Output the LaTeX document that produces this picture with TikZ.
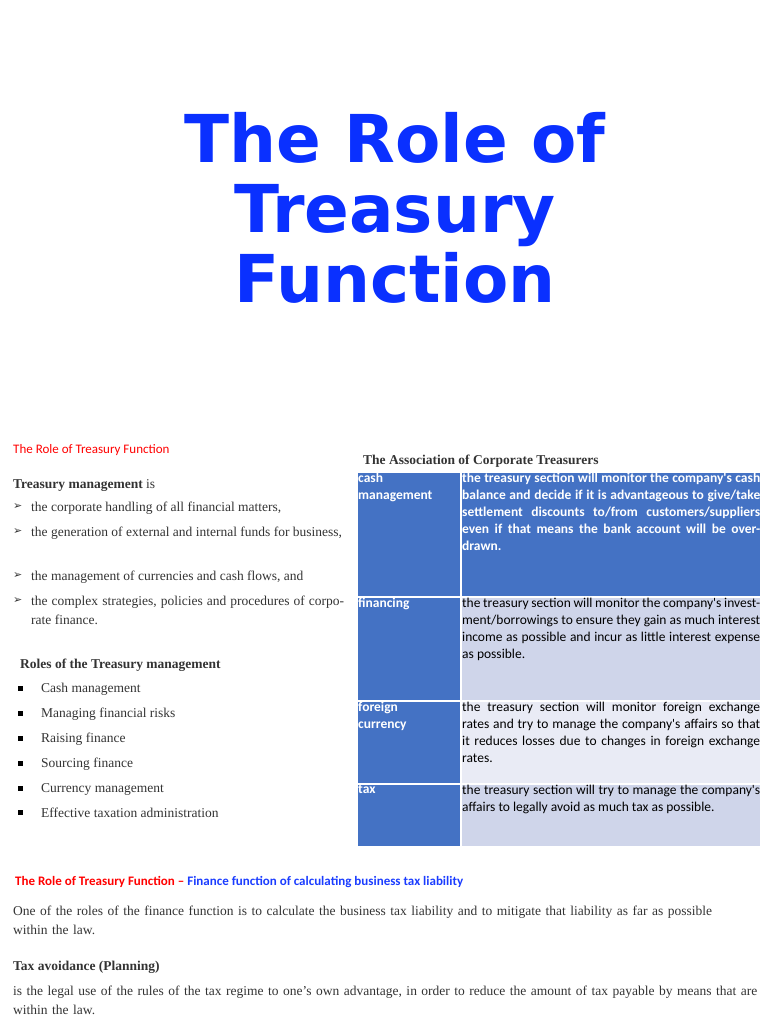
\documentclass[tikz,border=0pt]{standalone}
\usepackage{fontspec}
\setmainfont{Liberation Serif}
\newfontfamily\titlefont{DejaVu Sans}
\newfontfamily\calfnt{Carlito}
\newfontfamily\djv{DejaVu Sans}
\definecolor{ttlblue}{HTML}{0A30FF}
\definecolor{hdred}{HTML}{FF0000}
\definecolor{hdblue}{HTML}{1A3CFF}
\definecolor{tbdark}{HTML}{4472C4}
\definecolor{tblight}{HTML}{CFD5EA}
\definecolor{tblighter}{HTML}{E9EBF5}
\definecolor{bodygray}{HTML}{333333}
\tikzset{
 body/.style={anchor=north west,inner sep=0pt,font=\fontsize{13.5}{19}\selectfont,text=bodygray},
 item/.style={body,text width=313pt,align=justify},
 arrowmark/.style={anchor=north west,inner sep=0pt,font=\djv\fontsize{11}{13}\selectfont,text=bodygray},
 cellL/.style={anchor=north west,inner sep=0pt,text width=100pt,font=\calfnt\fontsize{13.5}{17}\selectfont\bfseries,text=white,align=left},
 cellR/.style={anchor=north west,inner sep=0pt,text width=298pt,font=\calfnt\fontsize{13.5}{17}\selectfont,align=justify},
}
\begin{document}
\begin{tikzpicture}[x=1pt,y=-1pt]
\useasboundingbox (0,0) rectangle (768,1024);
\node[align=center,text=ttlblue,font=\titlefont\bfseries\fontsize{66}{70}\selectfont] (title) at (395,208) {The Role of\\Treasury\\Function};
\node[anchor=west,inner sep=0pt,text=hdred,font=\calfnt\fontsize{13}{15}\selectfont] (h1) at (13,450) {The Role of Treasury Function};
\node[body,anchor=west] (tm) at (13,486) {\textbf{Treasury management} is};
\node[item] (it1) at (31,502) {the corporate handling of all financial matters,};
\node[item] (it2) at (31,527) {the generation of external and internal funds for business,};
\node[item] (it3) at (31,571) {the management of currencies and cash flows, and};
\node[item] (it4) at (31,596) {the complex strategies, policies and procedures of corporate finance.};
\node[arrowmark] (ar1) at (13,503) {➢};
\node[arrowmark] (ar2) at (13,528) {➢};
\node[arrowmark] (ar3) at (13,572) {➢};
\node[arrowmark] (ar4) at (13,597) {➢};
\node[body,anchor=west] (roles) at (20,665) {\textbf{Roles of the Treasury management}};
\foreach \y/\t [count=\i] in {689/Cash management,714/Managing financial risks,739/Raising finance,764/Sourcing finance,789/Currency management,813/Effective taxation administration}{
  \node[body,anchor=west] (r\i) at (41,\y) {\t};
  \fill[black] (18,\y-3) rectangle (23,\y+2);
}
\node[body,anchor=west,font=\fontsize{13.5}{16}\selectfont\bfseries] (act) at (363,461) {The Association of Corporate Treasurers};
% table
\fill[tbdark] (358,473) rectangle (460,596);
\fill[tbdark] (462,473) rectangle (760,596);
\fill[tbdark] (358,598) rectangle (460,700);
\fill[tblight] (462,598) rectangle (760,700);
\fill[tbdark] (358,702) rectangle (460,783);
\fill[tblighter] (462,702) rectangle (760,783);
\fill[tbdark] (358,785) rectangle (460,846);
\fill[tblight] (462,785) rectangle (760,846);
\node[cellL] (c1) at (358,473) {cash\\management};
\node[cellR,text=white,font=\calfnt\fontsize{13.5}{17}\selectfont\bfseries] (d1) at (462,473) {the treasury section will monitor the company's cash balance and decide if it is advantageous to give/take settlement discounts to/from customers/suppliers even if that means the bank account will be overdrawn.};
\node[cellL] (c2) at (358,598) {financing};
\node[cellR] (d2) at (462,598) {the treasury section will monitor the company's investment/borrowings to ensure they gain as much interest income as possible and incur as little interest expense as possible.};
\node[cellL] (c3) at (358,702) {foreign\\currency};
\node[cellR] (d3) at (462,702) {the treasury section will monitor foreign exchange rates and try to manage the company's affairs so that it reduces losses due to changes in foreign exchange rates.};
\node[cellL] (c4) at (358,785) {tax};
\node[cellR] (d4) at (462,785) {the treasury section will try to manage the company's affairs to legally avoid as much tax as possible.};
% bottom
\node[anchor=west,inner sep=0pt,font=\calfnt\fontsize{13}{15}\selectfont\bfseries] (h2) at (15,882) {\textcolor{hdred}{The Role of Treasury Function –} \textcolor{hdblue}{Finance function of calculating business tax liability}};
\node[body,text width=720pt,align=left] (p1) at (13,906) {One of the roles of the finance function is to calculate the business tax liability and to mitigate that liability as far as possible within the law.};
\node[body,anchor=west] (ta) at (13,967) {\textbf{Tax avoidance (Planning)}};
\node[body,text width=750pt,align=left] (p2) at (13,986) {\hangindent=14pt is the legal use of the rules of the tax regime to one’s own advantage, in order to reduce the amount of tax payable by means that are within the law.};
\end{tikzpicture}
\end{document}
